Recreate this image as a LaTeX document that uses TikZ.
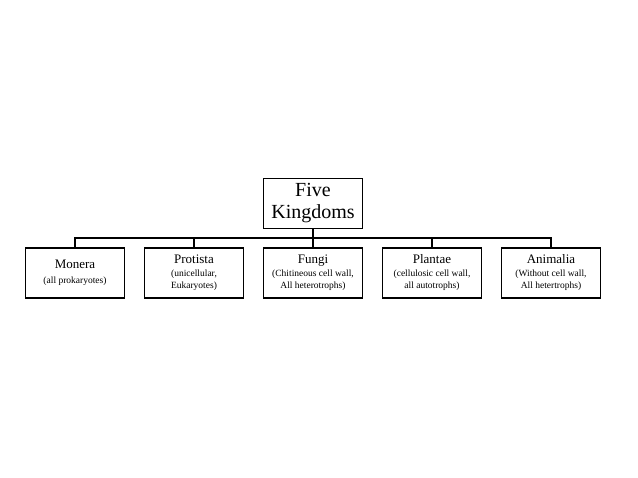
\documentclass[tikz,border=0pt]{standalone}
\usepackage{fontspec}
\setmainfont{Liberation Serif}
\begin{document}
\begin{tikzpicture}[x=1pt,y=-1pt,
  kbox/.style={draw,line width=1.5pt,minimum width=99pt,minimum height=50pt,inner sep=0pt,align=center},
  ttl/.style={font=\fontsize{13}{15}\selectfont},
  sub/.style={font=\fontsize{9.5}{14}\selectfont},
  con/.style={line width=1.5pt}]
\useasboundingbox (0,0) rectangle (638,478);
\node[kbox,font=\fontsize{20}{22}\selectfont] (top) at (313,203.5) {Five\\Kingdoms};
\node[kbox] (mon) at (75,273) {{\fontsize{13}{15}\selectfont Monera}\\[3pt]{\fontsize{9.5}{12}\selectfont (all prokaryotes)}};
\node[kbox] (pro) at (194,273) {{\fontsize{13}{15}\selectfont Protista}\\[1pt]{\fontsize{9.5}{14}\selectfont (unicellular,}\\{\fontsize{9.5}{12}\selectfont Eukaryotes)}};
\node[kbox] (fun) at (313,273) {{\fontsize{13}{15}\selectfont Fungi}\\[1pt]{\fontsize{9.5}{14}\selectfont (Chitineous cell wall,}\\{\fontsize{9.5}{12}\selectfont All heterotrophs)}};
\node[kbox] (pla) at (432,273) {{\fontsize{13}{15}\selectfont Plantae}\\[1pt]{\fontsize{9.5}{14}\selectfont (cellulosic cell wall,}\\{\fontsize{9.5}{12}\selectfont all autotrophs)}};
\node[kbox] (ani) at (551,273) {{\fontsize{13}{15}\selectfont Animalia}\\[1pt]{\fontsize{9.5}{14}\selectfont (Without cell wall,}\\{\fontsize{9.5}{12}\selectfont All hetertrophs)}};
\coordinate (j) at (313,238);
\draw[con] (top.south) -- (j);
\foreach \n in {mon,pro,fun,pla,ani}{
  \draw[con] (\n.north) -- (\n.north |- j) -- (j);
}
\end{tikzpicture}
\end{document}
